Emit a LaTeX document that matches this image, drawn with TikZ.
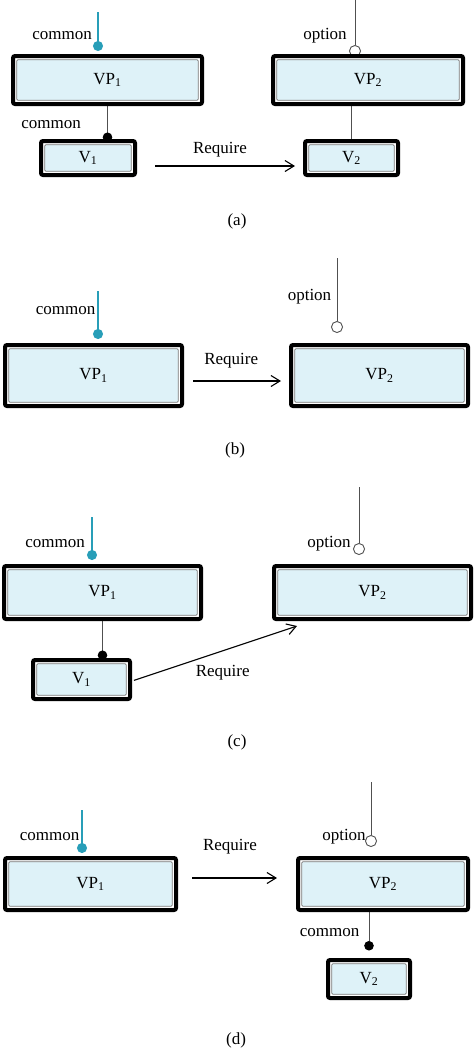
\documentclass[tikz,border=0pt]{standalone}
\usepackage{fontspec}
\setmainfont{Liberation Serif}
\usepackage{tikz}
\usetikzlibrary{arrows.meta, positioning, calc, backgrounds}
\definecolor{boxFill}{RGB}{222, 242, 248}
\definecolor{innerGray}{RGB}{120, 120, 120}
\definecolor{lineGray}{RGB}{80, 80, 80}
\definecolor{commonTeal}{RGB}{40, 158, 184}

\begin{document}
\begin{tikzpicture}[
    x=1pt, y=-1pt,
    font=\fontsize{17}{20}\selectfont,
    vbox/.style={
        rectangle,
        rounded corners=2pt,
        draw=black,
        line width=4pt,
        fill=white,
        inner sep=0pt,
        text centered,
        path picture={
            \draw[innerGray, line width=0.8pt, fill=boxFill, rounded corners=1pt]
                ([shift={(3.8pt,-3.8pt)}]path picture bounding box.north west) rectangle
                ([shift={(-3.8pt,3.8pt)}]path picture bounding box.south east);
        }
    },
    lbl/.style={
        inner sep=0pt,
        font=\fontsize{17}{20}\selectfont
    },
    commonline/.style={
        draw=commonTeal,
        line width=1.3pt,
        -{Circle[length=10pt]}
    },
    optionline/.style={
        draw=lineGray,
        line width=0.9pt,
        -{Circle[open, length=12pt, fill=white]}
    },
    link/.style={
        draw=lineGray,
        line width=0.9pt
    },
    dotend/.style={
        -{Circle[length=9.5pt, color=black]}
    },
    require/.style={
        ->,
        >={Straight Barb[length=9pt, width=11pt]},
        line width=1.1pt,
        color=black
    }
]
\useasboundingbox (0,0) rectangle (474,1053);

% (a)
\node[vbox, minimum width=189pt, minimum height=48pt] (vp1a) at (107.5,80) {VP\textsubscript{1}};
\node[vbox, minimum width=190pt, minimum height=48pt] (vp2a) at (368,80) {VP\textsubscript{2}};
\node[vbox, minimum width=94pt, minimum height=34pt] (v1a) at (88,158) {V\textsubscript{1}};
\node[vbox, minimum width=93pt, minimum height=34pt] (v2a) at (351.5,158) {V\textsubscript{2}};
\coordinate (ca) at (98,12);
\coordinate (oa) at (355,0);
\node[lbl] (cla) at (62,36) {common};
\node[lbl] (cla2) at (51,125) {common};
\node[lbl] (ola) at (325,36) {option};
\begin{scope}[on background layer]
\draw[commonline, shorten >=3pt] (ca) -- (vp1a.north -| ca);
\draw[optionline, shorten >=-3pt] (oa) -- (vp2a.north -| oa);
\draw[link, dotend, shorten >=-3pt] (vp1a.south) -- (vp1a.south |- v1a.north);
\draw[link] (v2a.north |- vp2a.south) -- (v2a.north);
\end{scope}
\draw[require, shorten <=18pt, shorten >=8pt] ([yshift=-8pt]v1a.east) -- ([yshift=-8pt]v2a.west)
    node[midway, above=5pt] {Require};
\node[lbl] (capa) at (237,221) {(a)};

% (b)
\node[vbox, minimum width=177pt, minimum height=61pt] (vp1b) at (93.5,375.5) {VP\textsubscript{1}};
\node[vbox, minimum width=177pt, minimum height=61pt] (vp2b) at (379.5,375.5) {VP\textsubscript{2}};
\coordinate (cb) at (98,291);
\coordinate (ob) at (337,258);
\node[lbl] (clb) at (65.5,311) {common};
\node[lbl] (olb) at (309.5,297) {option};
\begin{scope}[on background layer]
\draw[commonline, shorten >=4pt] (cb) -- (vp1b.north -| cb);
\draw[optionline, shorten >=10pt] (ob) -- (vp2b.north -| ob);
\end{scope}
\draw[require, shorten <=9pt, shorten >=8pt] ([yshift=-5.5pt]vp1b.east) -- ([yshift=-5.5pt]vp2b.west)
    node[pos=0.45, above=9pt] {Require};
\node[lbl] (capb) at (235,450) {(b)};

% (c)
\node[vbox, minimum width=197pt, minimum height=53pt] (vp1c) at (102.5,592.5) {VP\textsubscript{1}};
\node[vbox, minimum width=197pt, minimum height=53pt] (vp2c) at (372.5,592.5) {VP\textsubscript{2}};
\node[vbox, minimum width=97pt, minimum height=39pt] (v1c) at (81.5,679.5) {V\textsubscript{1}};
\coordinate (cc) at (92,517);
\coordinate (oc) at (359,487);
\node[lbl] (clc) at (55,544) {common};
\node[lbl] (olc) at (329,544) {option};
\begin{scope}[on background layer]
\draw[commonline, shorten >=4pt] (cc) -- (vp1c.north -| cc);
\draw[optionline, shorten >=9pt] (oc) -- (vp2c.north -| oc);
\draw[link, dotend, shorten >=-2pt] (vp1c.south) -- (vp1c.south |- v1c.north);
\end{scope}
\draw[require, shorten <=2pt] ([yshift=-1.5pt]v1c.east) -- ([xshift=25pt,yshift=-5pt]vp2c.south west)
    node[pos=0.55, below=11pt] {Require};
\node[lbl] (capc) at (237,742) {(c)};

% (d)
\node[vbox, minimum width=171pt, minimum height=52pt] (vp1d) at (90.5,884) {VP\textsubscript{1}};
\node[vbox, minimum width=170pt, minimum height=52pt] (vp2d) at (383,884) {VP\textsubscript{2}};
\node[vbox, minimum width=82pt, minimum height=38pt] (v2d) at (369,979) {V\textsubscript{2}};
\coordinate (cd) at (82,810);
\coordinate (od) at (371,782);
\node[lbl] (cld) at (49.5,837) {common};
\node[lbl] (old) at (344,837) {option};
\node[lbl] (cld2) at (329.5,933) {common};
\begin{scope}[on background layer]
\draw[commonline, shorten >=3pt] (cd) -- (vp1d.north -| cd);
\draw[optionline, shorten >=9pt] (od) -- (vp2d.north -| od);
\draw[link, dotend, shorten >=7.5pt] (v2d.north |- vp2d.south) -- (v2d.north);
\end{scope}
\draw[require, shorten <=14pt, shorten >=19pt] ([yshift=6pt]vp1d.east) -- ([yshift=6pt]vp2d.west);
\node[lbl] (reqd) at (230,847) {Require};
\node[lbl] (capd) at (236,1040) {(d)};

\end{tikzpicture}
\end{document}
